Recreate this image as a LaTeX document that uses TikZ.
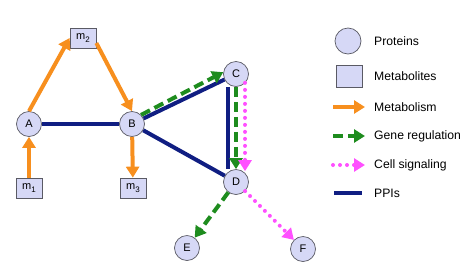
\documentclass[tikz,border=0pt]{standalone}
\usepackage{fontspec}
\setmainfont{Liberation Sans}
\usetikzlibrary{arrows.meta}
\definecolor{lav}{RGB}{214,216,246}
\definecolor{nodeborder}{RGB}{90,90,100}
\definecolor{orng}{RGB}{247,143,30}
\definecolor{grn}{RGB}{30,140,30}
\definecolor{navy}{RGB}{16,30,130}
\definecolor{mag}{RGB}{255,80,255}
\tikzset{
  prot/.style={circle, draw=nodeborder, line width=0.7pt, fill=lav, minimum size=25pt, inner sep=0pt, font=\fontsize{11}{13}\selectfont},
  metab/.style={rectangle, draw=nodeborder, line width=0.7pt, fill=lav, minimum width=26pt, minimum height=20pt, inner sep=0pt, font=\fontsize{11}{13}\selectfont},
  legtext/.style={anchor=west, inner sep=0pt, font=\fontsize{12.2}{14}\selectfont},
  metabolism/.style={draw=orng, line width=4pt, -{Triangle[length=11pt,width=13pt]}},
  genereg/.style={draw=grn, line width=4pt, dash pattern=on 10pt off 5pt, -{Triangle[length=11pt,width=13pt]}},
  cellsig/.style={draw=mag, line width=4pt, line cap=round, dash pattern=on 0pt off 7pt, -{Triangle[length=11pt,width=13pt,line cap=butt]}},
  ppi/.style={draw=navy, line width=4pt},
}
\newcommand{\msub}[1]{m\raisebox{-0.45ex}{\fontsize{8}{9}\selectfont #1}}
\begin{document}
\begin{tikzpicture}[x=1pt,y=-1pt]
\useasboundingbox (0,0) rectangle (474,266);
% nodes
\node[prot] (A) at (29,124) {A};
\node[prot] (B) at (132,124) {B};
\node[prot] (C) at (236,74) {C};
\node[prot] (D) at (236,182) {D};
\node[prot] (E) at (187,248) {E};
\node[prot] (F) at (303,249) {F};
\node[metab] (m1) at (29,188) {\msub{1}};
\node[metab] (m2) at (83,38) {\msub{2}};
\node[metab] (m3) at (133,188) {\msub{3}};
% PPIs
\draw[ppi] (A) -- (B);
\draw[ppi] (B) -- (C);
\draw[ppi] (B) -- (D);
\draw[ppi] ([xshift=-8pt]C.south) -- ([xshift=-8pt]D.north);
% metabolism
\draw[metabolism] (m1) -- (A);
\draw[metabolism] (A.north) -- (m2.west);
\draw[metabolism] ([yshift=-5pt]m2.east) -- (B.north);
\draw[metabolism] (B) -- (m3);
% gene regulation
\draw[genereg] (B.north east) -- (C.172);
\draw[genereg] (C.south) -- (D.north);
\draw[genereg] (D) -- (E);
% cell signaling
\draw[cellsig] ([xshift=9pt,yshift=4pt]C.south) -- ([xshift=9pt,yshift=-2pt]D.north);
\draw[cellsig] (D) -- (F);
% legend
\node[prot, minimum size=26pt] (lp) at (348,41) {};
\node[legtext] (lpt) at (374,41) {Proteins};
\node[metab, minimum width=26pt, minimum height=22pt] (lm) at (349,76) {};
\node[legtext] (lmt) at (374,76) {Metabolites};
\coordinate (l1a) at (333,107); \coordinate (l1b) at (365,107);
\draw[metabolism] (l1a) -- (l1b);
\node[legtext] (l1t) at (374,107) {Metabolism};
\coordinate (l2a) at (333,136); \coordinate (l2b) at (365,136);
\draw[genereg] (l2a) -- (l2b);
\node[legtext] (l2t) at (374,136) {Gene regulation};
\coordinate (l3a) at (333,165); \coordinate (l3b) at (365,165);
\draw[cellsig] (l3a) -- (l3b);
\node[legtext] (l3t) at (374,165) {Cell signaling};
\coordinate (l4a) at (334,193); \coordinate (l4b) at (362,193);
\draw[ppi] (l4a) -- (l4b);
\node[legtext] (l4t) at (374,193) {PPIs};
\end{tikzpicture}
\end{document}
